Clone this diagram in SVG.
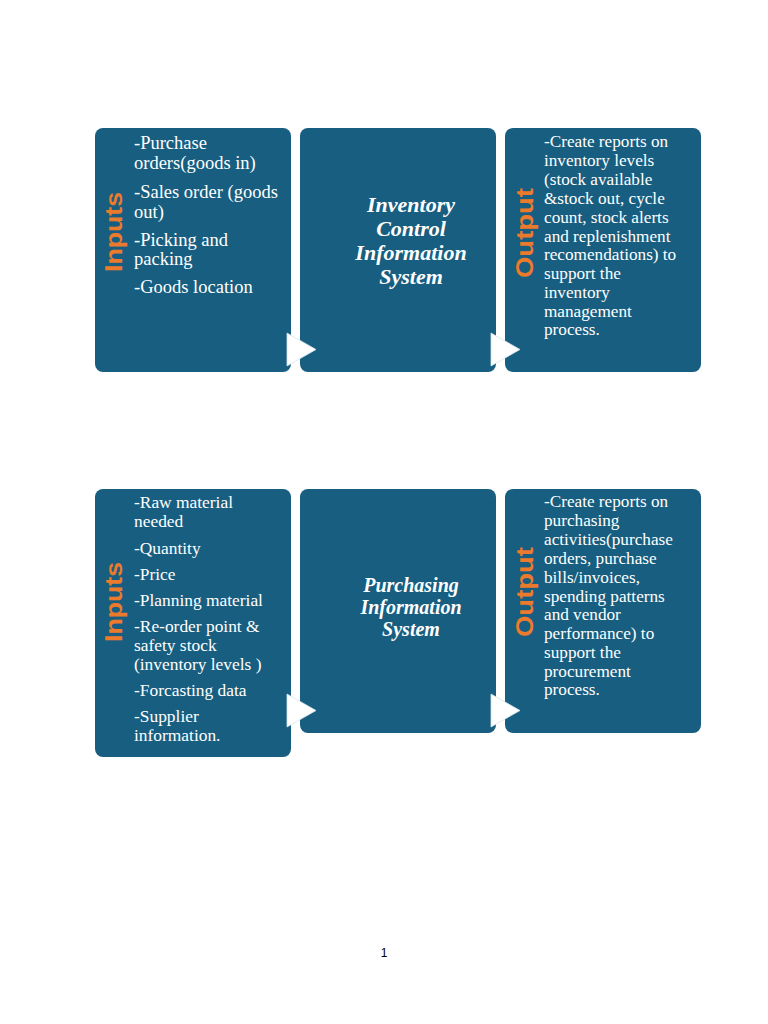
<svg xmlns="http://www.w3.org/2000/svg" width="768" height="1024" viewBox="0 0 768 1024">
<style>
.box{fill:#175e80;}
.lbl{font-family:"Liberation Sans",Arial,sans-serif;font-weight:bold;font-size:24px;fill:#ec7a2c;}
.txt{font-family:"Liberation Serif","Times New Roman",serif;fill:#ffffff;}
.mid{font-family:"Liberation Serif","Times New Roman",serif;font-style:italic;font-weight:bold;fill:#ffffff;text-anchor:middle;}
.arr{fill:#ffffff;stroke:#d6e3ea;stroke-width:0.8;}
</style>
<rect width="768" height="1024" fill="#ffffff"/>
<!-- Row 1 -->
<g id="inputs1">
<rect class="box" x="95" y="128" width="196" height="244" rx="8"/>
<text class="lbl" transform="translate(122,232) rotate(-90)" text-anchor="middle" textLength="80" lengthAdjust="spacingAndGlyphs">Inputs</text>
<text class="txt" font-size="18.5"><tspan x="134" y="149">-Purchase</tspan><tspan x="134" y="169">orders(goods in)</tspan><tspan x="134" y="198">-Sales order (goods</tspan><tspan x="134" y="217.5">out)</tspan><tspan x="134" y="245.5">-Picking and</tspan><tspan x="134" y="265">packing</tspan><tspan x="134" y="293">-Goods location</tspan></text>
</g>
<g id="system1">
<rect class="box" x="300" y="128" width="196" height="244" rx="8"/>
<text class="mid" font-size="22"><tspan x="411" y="212">Inventory</tspan><tspan x="411" y="236">Control</tspan><tspan x="411" y="260">Information</tspan><tspan x="411" y="284">System</tspan></text>
</g>
<g id="output1">
<rect class="box" x="505" y="128" width="196" height="244" rx="8"/>
<text class="lbl" transform="translate(533,233) rotate(-90)" text-anchor="middle" textLength="90" lengthAdjust="spacingAndGlyphs">Output</text>
<text class="txt" font-size="17.2"><tspan x="544" y="147">-Create reports on</tspan><tspan x="544" y="166">inventory levels</tspan><tspan x="544" y="185">(stock available</tspan><tspan x="544" y="204">&amp;stock out, cycle</tspan><tspan x="544" y="222.5">count, stock alerts</tspan><tspan x="544" y="241.5">and replenishment</tspan><tspan x="544" y="260">recomendations) to</tspan><tspan x="544" y="279">support the</tspan><tspan x="544" y="297.5">inventory</tspan><tspan x="544" y="316.5">management</tspan><tspan x="544" y="335">process.</tspan></text>
</g>
<!-- Row 2 -->
<g id="inputs2">
<rect class="box" x="95" y="489" width="196" height="268" rx="8"/>
<text class="lbl" transform="translate(122,602) rotate(-90)" text-anchor="middle" textLength="80" lengthAdjust="spacingAndGlyphs">Inputs</text>
<text class="txt" font-size="17.4"><tspan x="134" y="508">-Raw material</tspan><tspan x="134" y="526.5">needed</tspan><tspan x="134" y="554">-Quantity</tspan><tspan x="134" y="580">-Price</tspan><tspan x="134" y="606">-Planning material</tspan><tspan x="134" y="632">-Re-order point &amp;</tspan><tspan x="134" y="650.5">safety stock</tspan><tspan x="134" y="669.5">(inventory levels )</tspan><tspan x="134" y="696">-Forcasting data</tspan><tspan x="134" y="722">-Supplier</tspan><tspan x="134" y="740.5">information.</tspan></text>
</g>
<g id="system2">
<rect class="box" x="300" y="489" width="196" height="244" rx="8"/>
<text class="mid" font-size="20"><tspan x="411" y="592">Purchasing</tspan><tspan x="411" y="614">Information</tspan><tspan x="411" y="635.5">System</tspan></text>
</g>
<g id="output2">
<rect class="box" x="505" y="489" width="196" height="244" rx="8"/>
<text class="lbl" transform="translate(533,592) rotate(-90)" text-anchor="middle" textLength="90" lengthAdjust="spacingAndGlyphs">Output</text>
<text class="txt" font-size="17.2"><tspan x="544" y="507">-Create reports on</tspan><tspan x="544" y="526">purchasing</tspan><tspan x="544" y="545">activities(purchase</tspan><tspan x="544" y="564">orders, purchase</tspan><tspan x="544" y="582.5">bills/invoices,</tspan><tspan x="544" y="601.5">spending patterns</tspan><tspan x="544" y="620">and vendor</tspan><tspan x="544" y="639">performance) to</tspan><tspan x="544" y="657.5">support the</tspan><tspan x="544" y="676.5">procurement</tspan><tspan x="544" y="695">process.</tspan></text>
</g>
<g id="connectors">
<polygon class="arr" points="287,333 316,349.5 287,366"/>
<polygon class="arr" points="491,333 520,349.5 491,366"/>
<polygon class="arr" points="287,694 316,710.5 287,727"/>
<polygon class="arr" points="491,694 520,710.5 491,727"/>
</g>
<text x="384" y="957" font-family="Liberation Sans,Arial,sans-serif" font-size="12" text-anchor="middle" fill="#000">1</text>
</svg>
